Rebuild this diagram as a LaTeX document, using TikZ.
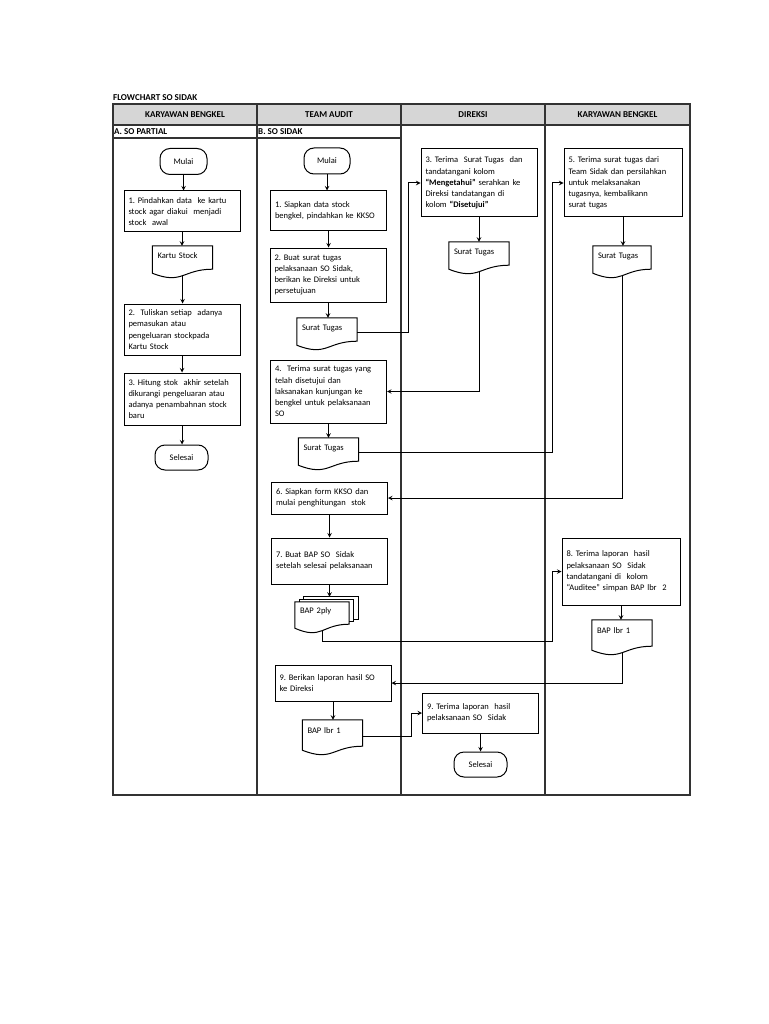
\documentclass[tikz,border=0pt]{standalone}
\usepackage{fontspec}
\setmainfont{Carlito}
\frenchspacing

\begin{document}
\begin{tikzpicture}[x=1pt, y=1pt]
    % Define basic node styles
    \tikzset{
        box/.style={
            rectangle,
            draw,
            line width=1pt,
            minimum width=116pt,
            text width=107pt,
            inner xsep=4.5pt,
            align=left,
            font=\fontsize{8.5}{11.2}\selectfont
        },
        term/.style={
            rectangle,
            rounded corners=10pt,
            draw,
            line width=1pt,
            minimum width=47pt,
            minimum height=26pt,
            font=\fontsize{8.5}{11.2}\selectfont
        },
        doc/.style={
            rectangle,
            minimum width=60pt,
            minimum height=29pt,
            text width=50pt,
            inner xsep=5pt,
            text depth=10pt,
            align=left,
            font=\fontsize{8.5}{11.2}\selectfont,
            append after command={\pgfextra{\draw[line width=1pt]
                (\tikzlastnode.north west) -- (\tikzlastnode.north east)
                -- ([yshift=6pt]\tikzlastnode.south east)
                .. controls ([yshift=6pt]\tikzlastnode.south) and ([yshift=-10pt]\tikzlastnode.south)
                .. ([yshift=2pt]\tikzlastnode.south west) -- cycle;}}
        },
        hdr/.style={font=\bfseries\fontsize{9}{10}\selectfont, inner sep=1pt},
        arr/.style={->, >=stealth, line width=1pt},
        grid/.style={line width=1.2pt, draw=black!80}
    }

    \useasboundingbox (0,0) rectangle (768,-1024);

    % Table frame
    \node[hdr, anchor=base west, inner sep=0pt] (judul) at (113,-100.5) {FLOWCHART SO SIDAK};
    \fill[black!16] (113,-104) rectangle (690,-125);
    \draw[grid] (113,-104) rectangle (690,-795);
    \draw[grid] (113,-125) -- (690,-125);
    \draw[grid] (113,-138) -- (401,-138);
    \draw[grid] (257,-104) -- (257,-795);
    \draw[grid] (401,-104) -- (401,-795);
    \draw[grid] (545,-104) -- (545,-795);
    \node[hdr] (kolA) at (185,-114.5) {KARYAWAN BENGKEL};
    \node[hdr] (kolB) at (329,-114.5) {TEAM AUDIT};
    \node[hdr] (kolC) at (473,-114.5) {DIREKSI};
    \node[hdr] (kolD) at (617.5,-114.5) {KARYAWAN BENGKEL};
    \node[hdr, anchor=west] (subA) at (113,-131.5) {A. SO PARTIAL};
    \node[hdr, anchor=west] (subB) at (257,-131.5) {B. SO SIDAK};

    % Karyawan Bengkel (SO partial)
    \node[term] (mulaiA) at (183.5,-161.5) {Mulai};
    \node[box, minimum height=41pt] (pindah) at (182,-211.5) {1. Pindahkan data~ ke kartu\\stock agar diakui~ menjadi\\stock~ awal};
    \node[doc] (kartu) at (182.5,-260.5) {Kartu Stock};
    \node[box, minimum height=51pt] (tulis) at (182,-329.5) {2.~ Tuliskan setiap~ adanya\\pemasukan atau\\pengeluaran stockpada\\Kartu Stock};
    \node[box, minimum height=52pt] (hitung) at (182,-399) {3. Hitung stok~ akhir setelah\\dikurangi pengeluaran atau\\adanya penambahnan stock\\baru};
    \node[term, minimum width=53pt, minimum height=25pt] (selesaiA) at (181.5,-457.5) {Selesai};

    % Team Audit (SO sidak)
    \node[term, minimum width=46pt] (mulaiB) at (327,-161) {Mulai};
    \node[box, minimum height=40pt] (siapkan) at (328.5,-211) {1. Siapkan data stock\\bengkel, pindahkan ke KKSO};
    \node[box, minimum height=54pt] (buat) at (328,-275) {2. Buat surat tugas\\pelaksanaan SO Sidak,\\berikan ke Direksi untuk\\persetujuan};
    \node[doc] (surat1) at (327,-332.5) {Surat Tugas};
    \node[box, minimum height=63pt] (terima4) at (328.5,-391.5) {4.~ Terima surat tugas yang\\telah disetujui dan\\laksanakan kunjungan ke\\bengkel untuk pelaksanaan\\SO};
    \node[doc] (surat2) at (328.5,-452.5) {Surat Tugas};
    \node[box, minimum height=32pt] (form) at (329.5,-498) {6. Siapkan form KKSO dan\\mulai penghitungan~ stok};
    \node[box, minimum height=46pt] (bap) at (329.5,-561) {7. Buat BAP SO~ Sidak\\setelah selesai pelaksanaan};
    \node[doc, minimum width=54pt, text width=44pt, minimum height=28pt] (bapdua) at (322,-616) {BAP 2ply};
    \draw[line width=1pt] ([shift={(4.5pt,0pt)}]bapdua.north west) -- ++(0,2.5) -| ([shift={(4.5pt,8.5pt)}]bapdua.south east) -- ++(-4.5,0);
    \draw[line width=1pt] ([shift={(9pt,2.5pt)}]bapdua.north west) -- ++(0,2.5) -| ([shift={(9pt,11pt)}]bapdua.south east) -- ++(-4.5,0);
    \node[box, minimum height=36pt] (lapor) at (333,-683) {9. Berikan laporan hasil SO\\ke Direksi};
    \node[doc, minimum height=32pt] (lembar2) at (332.5,-736) {BAP lbr 1};

    % Direksi
    \node[box, minimum height=68pt] (terima3) at (479,-183) {3. Terima~ Surat Tugas~ dan\\tandatangani kolom\\\textbf{“Mengetahui”} serahkan ke\\Direksi tandatangan di\\kolom \textbf{“Disetujui”}};
    \node[doc] (surat3) at (479,-256.5) {Surat Tugas};
    \node[box, minimum height=40pt] (terima9) at (480.5,-713) {9. Terima laporan~ hasil\\pelaksanaan SO~ Sidak};
    \node[term, minimum width=53pt, minimum height=25pt] (selesaiC) at (480.5,-764.5) {Selesai};

    % Karyawan Bengkel
    \node[box, minimum width=118pt, text width=109pt, minimum height=68pt] (terima5) at (623,-183) {5. Terima surat tugas dari\\Team Sidak dan persilahkan\\untuk melaksanakan\\tugasnya, kembalikann\\surat tugas};
    \node[doc, minimum width=58pt, text width=48pt] (surat4) at (622,-260.5) {Surat Tugas};
    \node[box, minimum width=118pt, text width=109pt, minimum height=67pt] (terima8) at (621,-571.5) {8. Terima laporan~ hasil\\pelaksanaan SO~ Sidak\\tandatangani di~ kolom\\“Auditee” simpan BAP lbr~ 2};
    \node[doc, minimum height=32pt] (lembar4) at (622,-636) {BAP lbr 1};

    % Lanes between columns
    \coordinate (laneA) at (408,0);
    \coordinate (laneB) at (552,0);
    \coordinate (laneC) at (411,0);
    \coordinate (bendB) at (552,-641);
    \coordinate (bapduatop) at ([yshift=5pt]bapdua.north);

    % Connections in SO partial
    \draw[arr] (mulaiA) -- (mulaiA |- pindah.north);
    \draw[arr] (pindah) -- (pindah |- kartu.north);
    \draw[arr] (kartu) -- (kartu |- tulis.north);
    \draw[arr] (tulis) -- (tulis |- hitung.north);
    \draw[arr] (hitung) -- (hitung |- selesaiA.north);

    % Connections in SO sidak
    \draw[arr] (mulaiB) -- (mulaiB |- siapkan.north);
    \draw[arr] (siapkan) -- (siapkan |- buat.north);
    \draw[arr] (buat) -- (buat |- surat1.north);
    \draw[arr] (surat1.east) -- (surat1.east -| laneA) |- (terima3.west);
    \draw[arr] (terima3) -- (terima3 |- surat3.north);
    \draw[arr] (surat3.south) |- (terima4.east);
    \draw[arr] (terima4) -- (terima4 |- surat2.north);
    \draw[arr] (surat2.east) -- (surat2.east -| laneB) |- (terima5.west);
    \draw[arr] (terima5) -- (terima5 |- surat4.north);
    \draw[arr] (surat4.south) |- (form.east);
    \draw[arr] (form) -- (form |- bap.north);
    \draw[arr] (bap) -- (bap |- bapduatop);
    \draw[arr] (bapdua.south) |- (bendB) |- (terima8.west);
    \draw[arr] (terima8) -- (terima8 |- lembar4.north);
    \draw[arr] (lembar4.south) |- (lapor.east);
    \draw[arr] (lapor) -- (lapor |- lembar2.north);
    \draw[arr] (lembar2.east) -- (lembar2.east -| laneC) |- (terima9.west);
    \draw[arr] (terima9) -- (terima9 |- selesaiC.north);
\end{tikzpicture}
\end{document}
